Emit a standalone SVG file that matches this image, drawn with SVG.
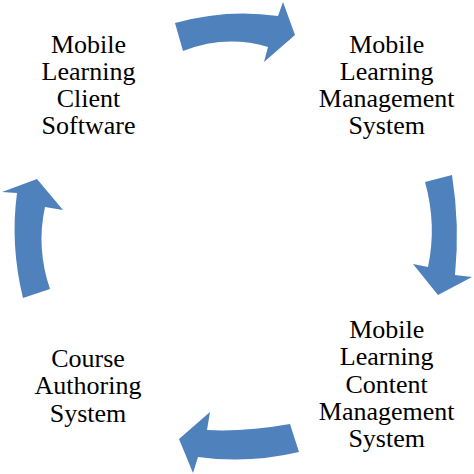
<svg xmlns="http://www.w3.org/2000/svg" width="474" height="474" viewBox="0 0 474 474">
<style>
.lbl{font-size:26px;fill:#000;text-anchor:middle}
.arr{fill:#4F81BD;stroke:none}
</style>
<rect width="474" height="474" fill="#fff"/>
<g id="connectors">
<path class="arr" d="M175,23 Q227,8.5 278,16 L283,2 L295,35 L264,62 L268,47 Q226,34.4 183,51 Z"/>
<path class="arr" d="M452,175 Q460,225 455,275 L472,277 L438,295 L413,264 L428,267 Q437,225 425,182 Z"/>
<path class="arr" d="M290,424 Q245,432 207,430 L210,412 L179,439 L193,473 L198,457 Q248,464 299,452 Z"/>
<path class="arr" d="M23,298 Q10,245 17,193 L2,192 L37,179 L63,210 L45,207 Q36,248 50,289 Z"/>
</g>
<g font-family="Liberation Serif, Times New Roman, DejaVu Serif, serif">
<g id="node-client">
<text class="lbl" x="88.5" y="53.3">Mobile</text>
<text class="lbl" x="88.5" y="80">Learning</text>
<text class="lbl" x="88.5" y="106.7">Client</text>
<text class="lbl" x="88.5" y="134">Software</text>
</g>
<g id="node-lms">
<text class="lbl" x="386.7" y="53.3">Mobile</text>
<text class="lbl" x="386.7" y="80">Learning</text>
<text class="lbl" x="386.7" y="106.7">Management</text>
<text class="lbl" x="386.7" y="133.5">System</text>
</g>
<g id="node-lcms">
<text class="lbl" x="386.7" y="338.3">Mobile</text>
<text class="lbl" x="386.7" y="365">Learning</text>
<text class="lbl" x="386.7" y="392.7">Content</text>
<text class="lbl" x="386.7" y="420">Management</text>
<text class="lbl" x="386.7" y="447.3">System</text>
</g>
<g id="node-authoring">
<text class="lbl" x="88" y="366.7">Course</text>
<text class="lbl" x="88" y="394.3">Authoring</text>
<text class="lbl" x="88" y="422.3">System</text>
</g>
</g>
</svg>
